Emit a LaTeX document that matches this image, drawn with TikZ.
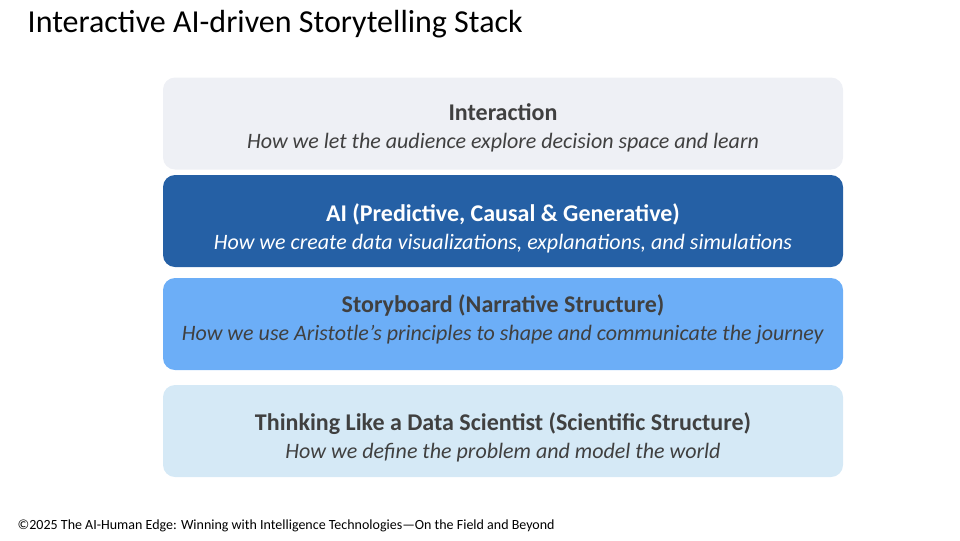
\documentclass[tikz,border=0pt]{standalone}
\usepackage{fontspec}
\setmainfont{Carlito}
\usepackage{xcolor}
\usetikzlibrary{positioning}
\definecolor{layerGray}{HTML}{EEF0F5}
\definecolor{layerDark}{HTML}{2560A5}
\definecolor{layerMid}{HTML}{6CAEF7}
\definecolor{layerLight}{HTML}{D5E9F6}
\definecolor{textGray}{HTML}{404040}
\tikzset{
  layer/.style={rectangle, rounded corners=9pt, minimum width=510pt, minimum height=69pt, draw=none},
  caption/.style={align=center, text=textGray, font=\fontsize{16.5}{21}\selectfont},
}
\newcommand{\layertext}[2]{{\fontsize{18}{21}\selectfont\textbf{#1}}\\\textit{#2}}

\begin{document}
\begin{tikzpicture}[x=0.75pt, y=-0.75pt]
\useasboundingbox (0,0) rectangle (960,540);
% Title
\node[anchor=west, font=\fontsize{24}{28}\selectfont] (title) at (23,24) {Interactive AI-driven Storytelling Stack};

% Layers
\node[layer, fill=layerGray] (inter) at (503,123.5) {};
\node[layer, fill=layerDark] (ai) at (503,221) {};
\node[layer, fill=layerMid] (story) at (503,324) {};
\node[layer, fill=layerLight] (think) at (503,431) {};

% Layer texts
\node[caption] (interTxt) at (503,128) {\layertext{Interaction}{How we let the audience explore decision space and learn}};
\node[caption, text=white] (aiTxt) at (503,228) {\layertext{AI (Predictive, Causal \& Generative)}{How we create data visualizations, explanations, and simulations}};
\node[caption] (storyTxt) at (503,319) {\layertext{Storyboard (Narrative Structure)}{How we use Aristotle’s principles to shape and communicate the journey}};
\node[caption] (thinkTxt) at (503,437) {\layertext{Thinking Like a Data Scientist (Scientific Structure)}{How we define the problem and model the world}};

% Footer
\node[anchor=west, font=\fontsize{10.5}{12}\selectfont] (foot) at (13,526) {©2025 The AI-Human Edge: Winning with Intelligence Technologies—On the Field and Beyond};
\end{tikzpicture}
\end{document}
